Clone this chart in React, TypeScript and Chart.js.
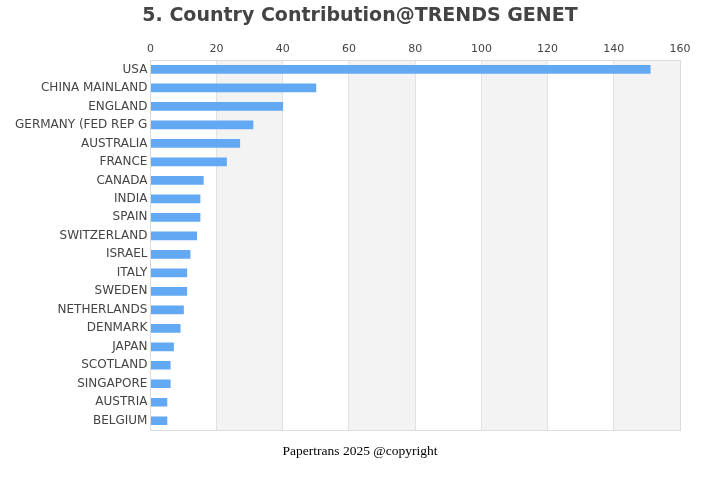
import { useEffect, useRef } from 'react';
import { Chart, registerables } from 'chart.js';

Chart.register(...registerables);

const countries = [
  'USA',
  'CHINA MAINLAND',
  'ENGLAND',
  'GERMANY (FED REP G',
  'AUSTRALIA',
  'FRANCE',
  'CANADA',
  'INDIA',
  'SPAIN',
  'SWITZERLAND',
  'ISRAEL',
  'ITALY',
  'SWEDEN',
  'NETHERLANDS',
  'DENMARK',
  'JAPAN',
  'SCOTLAND',
  'SINGAPORE',
  'AUSTRIA',
  'BELGIUM',
];

const counts = [151, 50, 40, 31, 27, 23, 16, 15, 15, 14, 12, 11, 11, 10, 9, 7, 6, 6, 5, 5];

const xMax = 160;
const xStep = 20;

const titleText = '5. Country Contribution@TRENDS GENET';
const footerText = 'Papertrans 2025 @copyright';

// grey bands on every other interval + frame round the plot area
const bandsPlugin = {
  id: 'bands',
  beforeDraw(chart: Chart) {
    const { ctx, chartArea, scales } = chart;
    const x = scales.x;
    ctx.save();
    for (let v = 0; v < xMax; v += xStep) {
      if ((v / xStep) % 2 === 1) {
        const x0 = x.getPixelForValue(v);
        const x1 = x.getPixelForValue(v + xStep);
        ctx.fillStyle = '#f3f3f3';
        ctx.fillRect(x0, chartArea.top, x1 - x0, chartArea.bottom - chartArea.top);
      }
    }
    ctx.restore();
  },
  afterDatasetsDraw(chart: Chart) {
    const { ctx, chartArea } = chart;
    ctx.save();
    ctx.strokeStyle = '#dcdcdc';
    ctx.lineWidth = 1;
    ctx.strokeRect(
      Math.round(chartArea.left) + 0.5,
      Math.round(chartArea.top) + 0.5,
      Math.round(chartArea.right - chartArea.left),
      Math.round(chartArea.bottom - chartArea.top)
    );
    ctx.restore();
  },
};

export default function App() {
  const canvasRef = useRef<HTMLCanvasElement>(null);

  useEffect(() => {
    if (!canvasRef.current) return;
    const chart = new Chart(canvasRef.current, {
      type: 'bar',
      data: {
        labels: countries,
        datasets: [
          {
            data: counts,
            backgroundColor: '#62a8f3',
            barThickness: 8,
          },
        ],
      },
      options: {
        indexAxis: 'y',
        responsive: false,
        animation: false,
        layout: { padding: { left: 12, right: 40, top: 39, bottom: 50 } },
        plugins: {
          legend: { display: false },
          tooltip: { enabled: false },
          title: { display: false },
        },
        scales: {
          x: {
            position: 'top',
            min: 0,
            max: xMax,
            ticks: {
              stepSize: xStep,
              color: '#444444',
              font: { family: 'DejaVu Sans', size: 11 },
              padding: 4,
            },
            grid: { color: '#e2e2e2', drawTicks: false },
            border: { display: false },
          },
          y: {
            ticks: {
              color: '#444444',
              font: { family: 'DejaVu Sans', size: 12 },
              padding: 3,
              autoSkip: false,
            },
            grid: { display: false, drawTicks: false },
            border: { display: false },
          },
        },
      },
      plugins: [bandsPlugin],
    });
    return () => chart.destroy();
  }, []);

  return (
    <div style={{ position: 'absolute', left: 0, top: 0, width: 720, height: 480, background: '#fff' }}>
      <canvas ref={canvasRef} width={720} height={480} />
      <div
        style={{
          position: 'absolute',
          left: 0,
          top: 2,
          width: 720,
          textAlign: 'center',
          fontFamily: 'DejaVu Sans',
          fontWeight: 'bold',
          fontSize: 19,
          lineHeight: '24px',
          color: '#444444',
        }}
      >
        {titleText}
      </div>
      <div
        style={{
          position: 'absolute',
          left: 0,
          top: 443,
          width: 720,
          textAlign: 'center',
          fontSize: 13.5,
          color: '#000',
        }}
      >
        {footerText}
      </div>
    </div>
  );
}
